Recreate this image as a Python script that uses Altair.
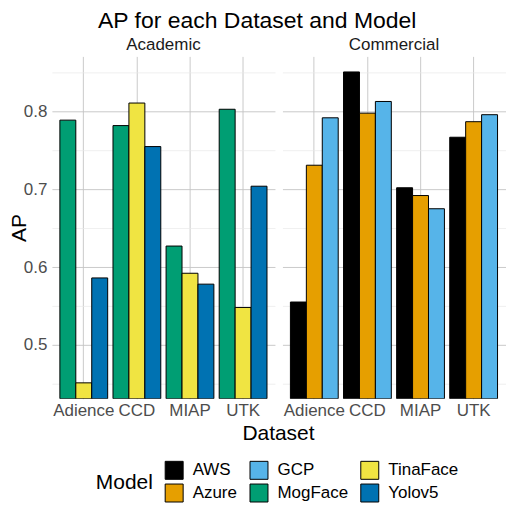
import altair as alt
import pandas as pd

datasets = ["Adience", "CCD", "MIAP", "UTK"]
groups = ["Academic", "Commercial"]
academic_models = ["MogFace", "TinaFace", "Yolov5"]
commercial_models = ["AWS", "Azure", "GCP"]

mogface = [0.789, 0.782, 0.627, 0.803]
tinaface = [0.451, 0.811, 0.592, 0.548]
yolov5 = [0.586, 0.755, 0.578, 0.704]
aws = [0.555, 0.851, 0.702, 0.767]
azure = [0.731, 0.798, 0.692, 0.787]
gcp = [0.792, 0.813, 0.675, 0.796]

# legend order (column-major like the reference) and colours
legend_order = ["AWS", "GCP", "TinaFace", "Azure", "MogFace", "Yolov5"]
legend_colors = ["#000000", "#56B4E9", "#F0E442", "#E69F00", "#009E73", "#0072B2"]

y_ticks = [0.5, 0.6, 0.7, 0.8]
y_minor = [0.45, 0.55, 0.65, 0.75, 0.85]
y_domain = [0.4306, 0.871]

series = {
    ("Academic", "MogFace"): mogface,
    ("Academic", "TinaFace"): tinaface,
    ("Academic", "Yolov5"): yolov5,
    ("Commercial", "AWS"): aws,
    ("Commercial", "Azure"): azure,
    ("Commercial", "GCP"): gcp,
}
rows = []
for (grp, model), vals in series.items():
    for ds, v in zip(datasets, vals):
        rows.append({"Group": grp, "Model": model, "Dataset": ds, "AP": v})
df = pd.DataFrame(rows)

FONT = "Liberation Sans"
MAJOR = "#C4C4C4"
MINOR = "#E8E8E8"

base = alt.Chart(df)

minor = base.mark_point(opacity=0).encode(
    y=alt.Y(
        "AP:Q",
        scale=alt.Scale(domain=y_domain, zero=False, nice=False),
        axis=alt.Axis(values=y_minor, grid=True, gridColor=MINOR, gridWidth=0.7,
                      labels=False, ticks=False, domain=False, title=None, orient="left"),
    )
)

bars = base.mark_bar(stroke="black", strokeWidth=1, clip=True).encode(
    x=alt.X(
        "Dataset:N",
        sort=datasets,
        title=None,
        scale=alt.Scale(paddingInner=0.1, paddingOuter=0.15),
        axis=alt.Axis(grid=True, gridColor=MAJOR, gridWidth=0.9, bandPosition=0.5,
                      labelAngle=0, ticks=False, domain=False, labelFontSize=17,
                      labelColor="#4D4D4D", labelPadding=4),
    ),
    xOffset=alt.XOffset("Model:N", scale=alt.Scale(paddingInner=0, paddingOuter=0)),
    y=alt.Y(
        "AP:Q",
        scale=alt.Scale(domain=y_domain, zero=False, nice=False),
        axis=alt.Axis(values=y_ticks, format=".1f", grid=True, gridColor=MAJOR, gridWidth=0.9,
                      ticks=False, domain=False, labelFontSize=17, labelColor="#4D4D4D",
                      labelPadding=5, title="AP", titleFontSize=21, titleFontWeight="normal",
                      titleColor="black", titlePadding=-6.5, orient="left"),
    ),
    y2=alt.datum(y_domain[0]),
    color=alt.Color(
        "Model:N",
        scale=alt.Scale(domain=legend_order, range=legend_colors),
        legend=alt.Legend(
            title="Model", orient="none", legendX=44, legendY=405, direction="horizontal",
            columns=3, titleOrient="left", titleFontSize=21, titleFontWeight="normal",
            titleColor="black", titlePadding=11, titleAnchor="middle", titleBaseline="middle",
            labelFontSize=17, labelColor="black", labelOffset=9, symbolType="square",
            symbolSize=324, symbolStrokeColor="black", symbolStrokeWidth=1,
            symbolOpacity=1, columnPadding=10, rowPadding=0, padding=0,
        ),
    ),
)

chart = (
    alt.layer(minor, bars)
    .resolve_axis(y="independent")
    .properties(width=223.5, height=343)
    .facet(
        column=alt.Column(
            "Group:N", sort=groups, title="Dataset",
            header=alt.Header(labelFontSize=17, labelColor="#1A1A1A", labelOrient="top",
                              labelPadding=2, titleOrient="bottom", titleFontSize=21,
                              titleFontWeight="normal", titleColor="black", titlePadding=-6),
        ),
        spacing=7,
    )
    .resolve_scale(xOffset="independent")
    .properties(
        title=alt.Title("AP for each Dataset and Model", fontSize=23, fontWeight="normal",
                        anchor="middle", color="black", offset=3),
        padding={"left": 0, "top": 2, "right": 0, "bottom": 0},
    )
    .configure(font=FONT)
    .configure_view(stroke=None)
)

chart.save("out.html", embed_options={"renderer": "svg", "actions": False})
